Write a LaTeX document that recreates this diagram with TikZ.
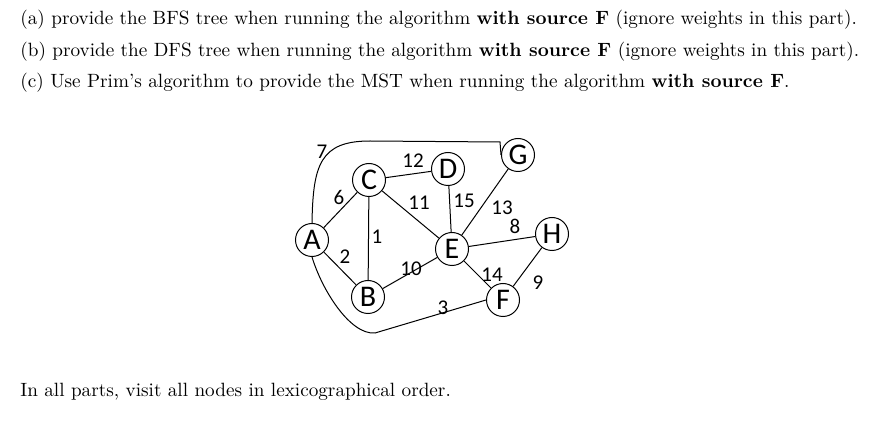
\documentclass[tikz,border=0pt]{standalone}
\usepackage{fontspec}
\newfontfamily\nodefont{Carlito}
\begin{document}
\begin{tikzpicture}[x=0.5pt,y=-0.5pt,
  vtx/.style={circle,draw,line width=0.5pt,minimum size=16.5pt,inner sep=0pt,font=\nodefont\fontsize{15}{15}\selectfont},
  wt/.style={font=\nodefont\fontsize{10.5}{10.5}\selectfont,inner sep=0pt},
  txt/.style={anchor=west,inner sep=0pt,font=\fontsize{9.6}{11}\selectfont},
  edge/.style={line width=0.5pt}]
\useasboundingbox (0,0) rectangle (890,422);
\node[txt] (ta) at (20,20) {(a) provide the BFS tree when running the algorithm \textbf{with source F} (ignore weights in this part).};
\node[txt] (tb) at (20,52) {(b) provide the DFS tree when running the algorithm \textbf{with source F} (ignore weights in this part).};
\node[txt] (tc) at (20,83) {(c) Use Prim's algorithm to provide the MST when running the algorithm \textbf{with source F}.};
\node[txt] (td) at (20,392) {In all parts, visit all nodes in lexicographical order.};
\node[vtx] (A) at (312,240) {A};
\node[vtx] (C) at (369,180) {C};
\node[vtx] (D) at (448,169) {D};
\node[vtx] (G) at (518,155) {G};
\node[vtx] (E) at (452,249) {E};
\node[vtx] (H) at (552,234) {H};
\node[vtx] (B) at (368,297) {B};
\node[vtx] (F) at (503,300) {F};
\draw[edge] (A) -- (C); \draw[edge] (A) -- (B); \draw[edge] (C) -- (B);
\draw[edge] (C) -- (D); \draw[edge] (C) -- (E); \draw[edge] (D) -- (E);
\draw[edge] (G) -- (E); \draw[edge] (E) -- (H); \draw[edge] (B) -- (E);
\draw[edge] (E) -- (F); \draw[edge] (F) -- (H);
\draw[edge] (A.north) .. controls (313,165) and (320,141) .. (370,141) -- (500,142) -- (G.west);
\draw[edge] (A.south) .. controls (322,290) and (350,335) .. (375,333) -- (F.west);
\node[wt] (w7) at (322,152) {7};
\node[wt] (w6) at (339,197) {6};
\node[wt] (w12) at (413,161) {12};
\node[wt] (w11) at (419,203) {11};
\node[wt] (w15) at (464,201) {15};
\node[wt] (w13) at (502,208) {13};
\node[wt] (w8) at (515,226) {8};
\node[wt] (w1) at (377,237) {1};
\node[wt] (w2) at (345,257) {2};
\node[wt] (w10) at (411,269) {10};
\node[wt] (w14) at (492,275) {14};
\node[wt] (w9) at (538,283) {9};
\node[wt] (w3) at (443,308) {3};
\end{tikzpicture}
\end{document}
